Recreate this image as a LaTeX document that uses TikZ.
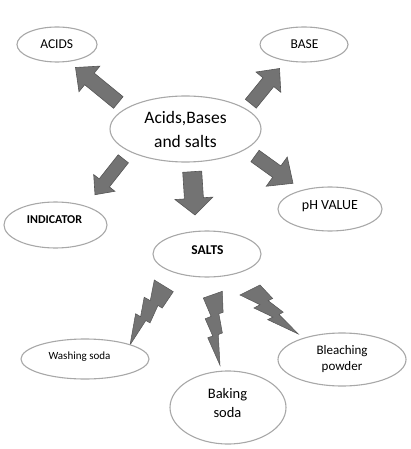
\documentclass[tikz,border=0pt]{standalone}
\usepackage{fontspec}
\setmainfont{Carlito}
\usetikzlibrary{shapes.geometric,calc}
\definecolor{arrgray}{HTML}{737373}
\definecolor{arredge}{HTML}{555555}
\definecolor{ellgray}{HTML}{A8A8A8}
\tikzset{
  bubble/.style={ellipse, draw=ellgray, line width=1.1pt, fill=white, inner sep=0pt},
  blockarrow/.style={fill=arrgray, draw=arredge, line width=0.6pt, line join=miter},
  boltstyle/.style={fill=arrgray, draw=arredge, line width=0.5pt, line join=miter},
  lbl/.style={inner sep=0pt, align=center, text=black, anchor=base}
}
% block arrow: #1 tail, #2 tip, #3 shaft half width, #4 head half width, #5 head length
\newcommand\blkarrow[5]{%
  \coordinate (bN) at ($(#2)!#5!(#1)$);
  \filldraw[blockarrow] ($(#1)!#3!90:(#2)$) -- ($(bN)!#3!-90:(#1)$) -- ($(bN)!#4!-90:(#1)$)
    -- (#2) -- ($(bN)!#4!90:(#1)$) -- ($(bN)!#3!90:(#1)$) -- ($(#1)!#3!-90:(#2)$) -- cycle;
}
% lightning bolt: #1 top corner T, #2 top corner L, #3 tip
\newcommand\ltbolt[3]{%
  \coordinate (bO) at ($0.36169*(#1)+0.77995*(#2)-0.14164*(#3)$);
  \coordinate (bU) at ($2.5536*(#1)-2.5536*(bO)$);
  \coordinate (bV) at ($5.5066*(#2)-5.5066*(bO)$);
  \filldraw[boltstyle] (#1) -- (#2)
    \foreach \u/\v in {0.3502/0.3896, 0.2312/0.4500, 0.5647/0.6437, 0.4624/0.6914,
                       1/1, 0.6837/0.5977, 0.7666/0.5563, 0.5106/0.3167, 0.5987/0.2766}
      { -- ($(bO)+\u*(bU)+\v*(bV)$) } -- cycle;
}
\begin{document}
\begin{tikzpicture}[x=1pt,y=-1pt]
\useasboundingbox (0,0) rectangle (411,449);

% block arrows
\coordinate (a1t) at (118.3,102.5); \coordinate (a1p) at (75.5,67.5);
\coordinate (a2t) at (250.8,103.7); \coordinate (a2p) at (279.5,68.5);
\coordinate (a3t) at (123.3,158.8); \coordinate (a3p) at (95,194.7);
\coordinate (a4t) at (192.2,171.7); \coordinate (a4p) at (195,215);
\coordinate (a5t) at (255,156);     \coordinate (a5p) at (293,183.3);
\blkarrow{a1t}{a1p}{7.5pt}{16.5pt}{18pt}
\blkarrow{a2t}{a2p}{7pt}{16pt}{17.6pt}
\blkarrow{a3t}{a3p}{6.5pt}{13.5pt}{15pt}
\blkarrow{a4t}{a4p}{9.5pt}{19pt}{16.7pt}
\blkarrow{a5t}{a5p}{7pt}{18pt}{20pt}

% lightning bolts
\coordinate (b1T) at (173.3,291.7); \coordinate (b1L) at (154.3,280); \coordinate (b1P) at (130,345);
\coordinate (b2T) at (222.3,291.3); \coordinate (b2L) at (203.3,298); \coordinate (b2P) at (220,365.3);
\coordinate (b3T) at (260,285);     \coordinate (b3L) at (240,295);   \coordinate (b3P) at (298.3,334);
\ltbolt{b1T}{b1L}{b1P}
\ltbolt{b2T}{b2L}{b2P}
\ltbolt{b3T}{b3L}{b3P}

% ellipses
\node[bubble, minimum width=80pt,  minimum height=35pt] (acids)  at (57,44.5) {};
\node[bubble, minimum width=88pt,  minimum height=35pt] (base)   at (304,44.5) {};
\node[bubble, minimum width=151pt, minimum height=66pt] (main)   at (185.5,129) {};
\node[bubble, minimum width=103pt, minimum height=46pt] (ind)    at (55.5,225) {};
\node[bubble, minimum width=104pt, minimum height=44pt] (ph)     at (330,209) {};
\node[bubble, minimum width=108pt, minimum height=46pt] (salts)  at (207,254) {};
\node[bubble, minimum width=128pt, minimum height=40pt] (wash)   at (85,359) {};
\node[bubble, minimum width=116pt, minimum height=73pt] (baking) at (228,407.5) {};
\node[bubble, minimum width=128pt, minimum height=53pt] (bleach) at (342,359.5) {};

% labels (base anchor = baseline of the last line)
\node[lbl, font=\fontsize{13.5}{15}\selectfont] (acidsT) at (56.7,48.3) {ACIDS};
\node[lbl, font=\fontsize{13.5}{15}\selectfont] (baseT) at (304.5,48.3) {BASE};
\node[lbl, font=\fontsize{17.5}{23}\selectfont] (mainT) at (185.5,147) {Acids,Bases\\and salts};
\node[lbl, font=\bfseries\fontsize{12}{14}\selectfont] (indT) at (54.5,223.3) {INDICATOR};
\node[lbl, font=\fontsize{14}{16}\selectfont] (phT) at (330,209.3) {pH VALUE};
\node[lbl, font=\bfseries\fontsize{13.5}{15}\selectfont] (saltsT) at (207.5,254.3) {SALTS};
\node[lbl, font=\fontsize{11}{13}\selectfont] (washT) at (79.5,359) {Washing soda};
\node[lbl, font=\fontsize{14.5}{19}\selectfont] (bakingT) at (227.5,417.3) {Baking\\soda};
\node[lbl, font=\fontsize{13}{15.5}\selectfont] (bleachT) at (342,370) {Bleaching\\powder};
\end{tikzpicture}
\end{document}
